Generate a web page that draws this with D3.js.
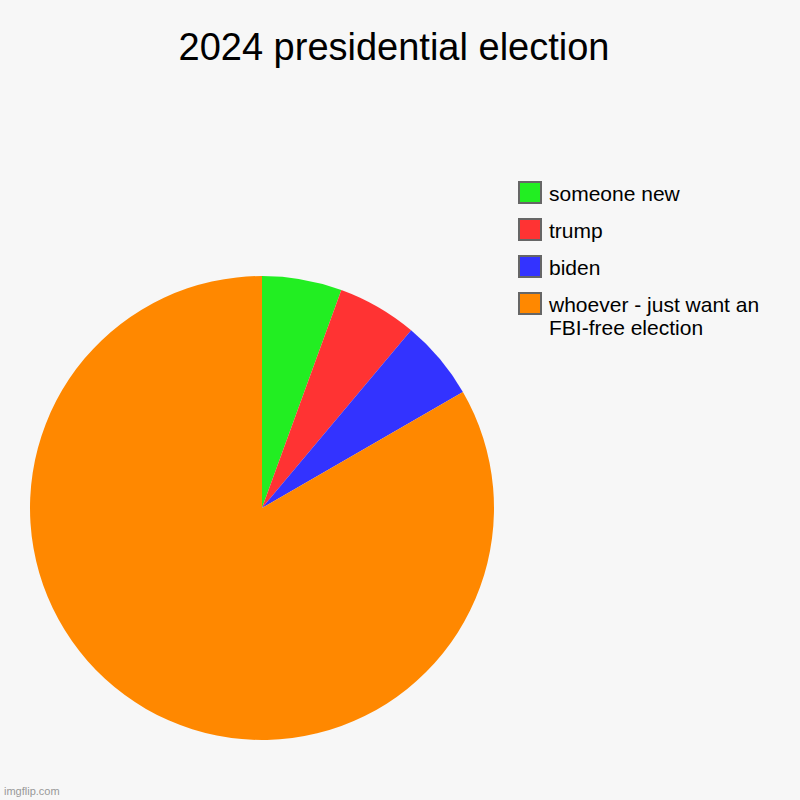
<!DOCTYPE html>
<html><head><meta charset="utf-8">
<script src="https://cdn.jsdelivr.net/npm/d3@7"></script>
<style>html,body{margin:0;padding:0;background:#f7f7f7;}</style>
</head><body>
<svg id="chart" width="800" height="800"></svg>
<script>
const categories = ["someone new", "trump", "biden", "whoever - just want an FBI-free election"];
const legendLines = [["someone new"], ["trump"], ["biden"], ["whoever - just want an", "FBI-free election"]];
const values = [1, 1, 1, 15];
const colors = ["#22ee22", "#ff3333", "#3333ff", "#ff8800"];
const title = "2024 presidential election";

const svg = d3.select("#chart");
svg.append("rect").attr("width", 800).attr("height", 800).attr("fill", "#f7f7f7");

svg.append("text").attr("x", 394).attr("y", 60).attr("text-anchor", "middle")
  .attr("font-family", "Arial, 'Liberation Sans', sans-serif").attr("font-size", 38).attr("fill", "#000")
  .text(title);

const cx = 262, cy = 508, r = 232;
const pie = d3.pie().sort(null).value(d => d)(values);
const arc = d3.arc().innerRadius(0).outerRadius(r);
const color = d3.scaleOrdinal().domain(d3.range(categories.length)).range(colors);
svg.append("g").attr("transform", `translate(${cx},${cy})`)
  .selectAll("path").data(pie).join("path")
  .attr("d", arc).attr("fill", (d, i) => color(i));

const legend = svg.append("g").attr("transform", "translate(519,182)");
const row = legend.selectAll("g").data(categories).join("g")
  .attr("transform", (d, i) => `translate(0,${i * 37})`);
row.append("rect").attr("width", 22).attr("height", 21)
  .attr("fill", (d, i) => color(i)).attr("stroke", "#666").attr("stroke-width", 2);
row.each(function(d, i) {
  const t = d3.select(this).append("text").attr("x", 30).attr("y", 18.5)
    .attr("font-family", "Arial, 'Liberation Sans', sans-serif").attr("font-size", 21).attr("fill", "#000");
  legendLines[i].forEach((ln, j) => t.append("tspan").attr("x", 30).attr("dy", j === 0 ? 0 : 23).text(ln));
});

svg.append("text").attr("x", 4).attr("y", 795)
  .attr("font-family", "Arial, 'Liberation Sans', sans-serif").attr("font-size", 11).attr("fill", "#999")
  .text("imgflip.com");
</script>
</body></html>
